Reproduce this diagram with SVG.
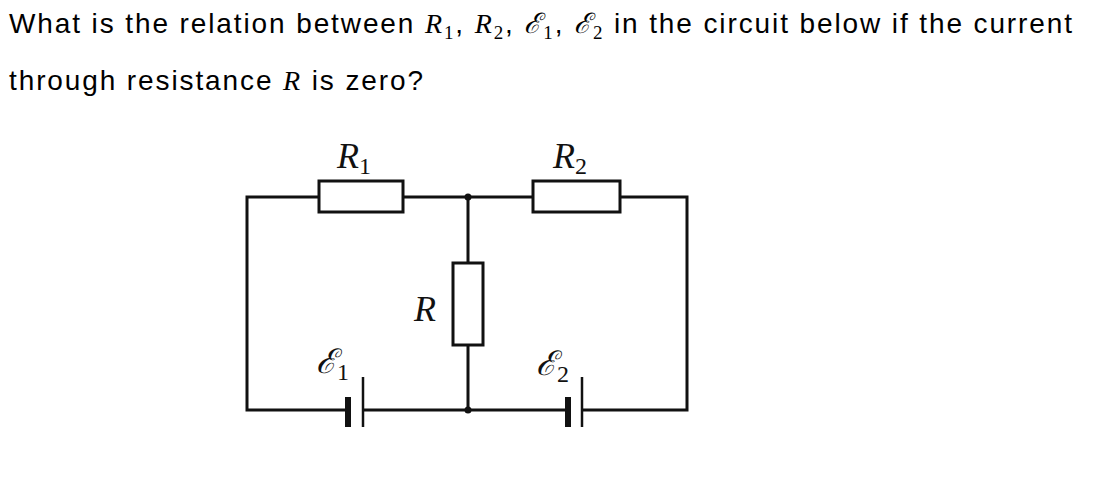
<svg xmlns="http://www.w3.org/2000/svg" width="1099" height="477" viewBox="0 0 1099 477">
<style>
.t{font-family:"Liberation Sans",Arial,sans-serif;font-size:28px;fill:#000}
.m{font-family:"Liberation Serif","Times New Roman",serif;font-style:italic}
.s{font-size:19px;font-style:normal}
.w{stroke:#111;stroke-width:3;fill:none}
.r{stroke:#111;stroke-width:3;fill:#fff}
.lb{font-family:"Liberation Serif","Times New Roman",serif;font-style:italic;font-size:36px;fill:#111}
.ls{font-size:24px;font-style:normal}
</style>
<rect width="1099" height="477" fill="#fff"/>
<text class="t" x="9" y="33" textLength="1063" lengthAdjust="spacing">What is the relation between <tspan class="m">R</tspan><tspan class="m s" dy="6">1</tspan><tspan dy="-6">, </tspan><tspan class="m">R</tspan><tspan class="m s" dy="6">2</tspan><tspan dy="-6">, </tspan><tspan class="m">ℰ</tspan><tspan class="m s" dy="6">1</tspan><tspan dy="-6">, </tspan><tspan class="m">ℰ</tspan><tspan class="m s" dy="6">2</tspan><tspan dy="-6"> in the circuit below if the current</tspan></text>
<text class="t" x="9" y="90" textLength="414" lengthAdjust="spacing">through resistance <tspan class="m">R</tspan> is zero?</text>
<g id="connectors">
<path class="w" d="M319 197H247V410H348M363 410H568M582 410H687V197H620M533 197H403M468 197V263M468 345V410"/>
</g>
<g id="R1"><rect class="r" x="319" y="181" width="84" height="31"/><text class="lb" x="337" y="168">R<tspan class="ls" dy="6">1</tspan></text></g>
<g id="R2"><rect class="r" x="533" y="181" width="87" height="31"/><text class="lb" x="553" y="168">R<tspan class="ls" dy="6">2</tspan></text></g>
<g id="R"><rect class="r" x="453" y="263" width="30" height="82"/><text class="lb" x="414" y="321">R</text></g>
<g id="E1"><path stroke="#111" stroke-width="6" d="M348 397V427"/><path stroke="#111" stroke-width="2.5" d="M363 377V427"/><text class="lb" x="316" y="373" style="font-size:34px">ℰ<tspan class="ls" dy="7">1</tspan></text></g>
<g id="E2"><path stroke="#111" stroke-width="6" d="M568 397V427"/><path stroke="#111" stroke-width="2.5" d="M582 377V427"/><text class="lb" x="536" y="375" style="font-size:34px">ℰ<tspan class="ls" dy="7">2</tspan></text></g>
<g id="junctions"><circle cx="468" cy="197" r="3.5" fill="#111"/><circle cx="468" cy="410" r="3.5" fill="#111"/></g>
</svg>
